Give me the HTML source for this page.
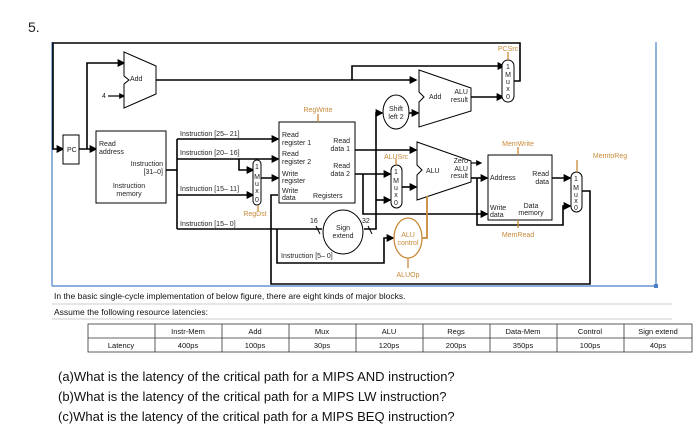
<!DOCTYPE html>
<html><head><meta charset="utf-8"><style>
html,body{margin:0;padding:0;background:#fff;width:700px;height:442px;overflow:hidden}
svg{display:block}
text{font-family:"Liberation Sans",sans-serif;}
.s{font-size:7px;fill:#222}
.o{font-size:7px;fill:#c88a3a}
</style></head><body>
<svg width="700" height="442" viewBox="0 0 700 442" xmlns="http://www.w3.org/2000/svg">
<defs><marker id="a" markerWidth="5" markerHeight="5" refX="4" refY="2.5" orient="auto"><path d="M0,0 L5,2.5 L0,5z" fill="#000"/></marker></defs>
<text x="28" y="32" style="font-size:14px;font-family:'Liberation Sans',sans-serif" fill="#222">5.</text>
<g stroke="#4a7fc8" stroke-width="1.2" fill="none">
<line x1="52" y1="42" x2="52" y2="286"/><line x1="656" y1="42" x2="656" y2="286"/><line x1="52" y1="286" x2="656" y2="286"/>
</g>
<rect x="654" y="284" width="4" height="4" fill="#4a7fc8"/>
<g stroke="#000" stroke-width="1.6" fill="none">
<polyline points="507,81 520,81 520,43 53,43 53,149 63,149" marker-end="url(#a)"/>
<polyline points="79,149 96,149" marker-end="url(#a)"/>
<polyline points="87,149 87,63 124,63" marker-end="url(#a)"/>
<polyline points="108,96 124,96" marker-end="url(#a)" stroke-width="1.2"/>
<polyline points="156,80 416,80" marker-end="url(#a)"/>
<polyline points="352,80 352,66 504,66" marker-end="url(#a)"/>
<polyline points="471,97 503,97" marker-end="url(#a)"/>
<polyline points="166,170 177,170"/>
<polyline points="177,139 177,229"/>
<polyline points="177,139 278,139" marker-end="url(#a)"/>
<polyline points="177,159 278,159" marker-end="url(#a)"/>
<polyline points="239,159 239,170 253,170" marker-end="url(#a)"/>
<polyline points="177,195 253,195" marker-end="url(#a)"/>
<polyline points="177,229 322,229"/>
<polyline points="261,178 278,178" marker-end="url(#a)"/>
<polyline points="277,229 277,263 384,263 384,238 393,238" marker-end="url(#a)"/>
<polyline points="278,195 271,195 271,284 590,284 590,191 582,191"/>
<polyline points="355,150 416,150" marker-end="url(#a)"/>
<polyline points="355,174 390,174" marker-end="url(#a)"/>
<polyline points="363,174 363,214 487,214" marker-end="url(#a)"/>
<polyline points="364,229 376,229 376,113 382,113" marker-end="url(#a)"/>
<polyline points="376,200 390,200" marker-end="url(#a)"/>
<polyline points="409,113 418,113" marker-end="url(#a)"/>
<polyline points="402,187 416,187" marker-end="url(#a)"/>
<polyline points="471,163 481,163" marker-end="url(#a)" stroke-width="1.2"/>
<polyline points="471,178 487,178" marker-end="url(#a)"/>
<polyline points="477,178 477,225 563,225 563,206 570,206" marker-end="url(#a)"/>
<polyline points="552,178 570,178" marker-end="url(#a)"/>
</g>
<g stroke="#000" stroke-width="1" fill="#fff">
<rect x="63" y="135" width="16" height="29"/>
<path d="M124,52 L156,66 L156,94 L124,108 L124,84 L129,80 L124,76z"/>
<rect x="96" y="131" width="70" height="72"/>
<rect x="253" y="160" width="8" height="45" rx="4"/>
<rect x="279" y="122" width="76" height="81"/>
<ellipse cx="343" cy="232" rx="20" ry="22"/>
<rect x="502" y="60" width="12" height="42" rx="6"/>
<path d="M419,70 L471,88 L471,111 L419,127 L419,102 L424,97 L419,92z"/>
<ellipse cx="396" cy="112" rx="13" ry="17"/>
<path d="M417,142 L471,161 L471,182 L417,200 L417,175 L422,170 L417,165z"/>
<rect x="391" y="165" width="11" height="43" rx="5.5"/>
<rect x="488" y="155" width="64" height="65"/>
<rect x="571" y="172" width="11" height="40" rx="5.5"/>
</g>
<g stroke="#c88a3a" stroke-width="1.3" fill="none">
<ellipse cx="408" cy="238" rx="14" ry="20" fill="#fff"/>
<polyline points="427,196 427,238 422,238" stroke-width="1.8"/>
<line x1="318" y1="114" x2="318" y2="122"/><line x1="258" y1="205" x2="258" y2="211"/>
<line x1="508" y1="52" x2="508" y2="60"/><line x1="396" y1="159" x2="396" y2="165"/>
<line x1="518" y1="147" x2="518" y2="155"/><line x1="518" y1="220" x2="518" y2="228"/>
<line x1="577" y1="160" x2="577" y2="172"/><line x1="408" y1="258" x2="408" y2="268"/>
</g>
<g stroke="#000" stroke-width="1"><line x1="316" y1="226" x2="320" y2="234"/><line x1="368" y1="226" x2="372" y2="234"/></g>
<g class="s">
<text x="67" y="152">PC</text>
<text x="130" y="81">Add</text>
<text x="102" y="98">4</text>
<text x="99" y="146">Read</text><text x="99" y="154">address</text>
<text x="163" y="166" text-anchor="end">Instruction</text><text x="163" y="174" text-anchor="end">[31–0]</text>
<text x="129" y="188" text-anchor="middle">Instruction</text><text x="129" y="196" text-anchor="middle">memory</text>
<text x="180" y="136">Instruction [25– 21]</text>
<text x="180" y="155">Instruction [20– 16]</text>
<text x="180" y="191">Instruction [15– 11]</text>
<text x="180" y="226">Instruction [15– 0]</text>
<text x="281" y="258">Instruction [5– 0]</text>
<text x="257" y="169" text-anchor="middle">1</text><text x="257" y="179" text-anchor="middle">M</text><text x="257" y="186" text-anchor="middle">u</text><text x="257" y="193" text-anchor="middle">x</text><text x="257" y="202" text-anchor="middle">0</text>
<text x="282" y="137">Read</text><text x="282" y="145">register 1</text>
<text x="282" y="156">Read</text><text x="282" y="164">register 2</text>
<text x="282" y="176">Write</text><text x="282" y="183">register</text>
<text x="282" y="193">Write</text><text x="282" y="200">data</text>
<text x="350" y="143" text-anchor="end">Read</text><text x="350" y="151" text-anchor="end">data 1</text>
<text x="350" y="168" text-anchor="end">Read</text><text x="350" y="176" text-anchor="end">data 2</text>
<text x="313" y="198">Registers</text>
<text x="310" y="223">16</text><text x="362" y="223">32</text>
<text x="343" y="230" text-anchor="middle">Sign</text><text x="343" y="238" text-anchor="middle">extend</text>
<text x="396" y="111" text-anchor="middle">Shift</text><text x="396" y="119" text-anchor="middle">left 2</text>
<text x="429" y="99">Add</text><text x="468" y="94" text-anchor="end">ALU</text><text x="468" y="102" text-anchor="end">result</text>
<text x="508" y="69" text-anchor="middle">1</text><text x="508" y="77" text-anchor="middle">M</text><text x="508" y="84" text-anchor="middle">u</text><text x="508" y="91" text-anchor="middle">x</text><text x="508" y="99" text-anchor="middle">0</text>
<text x="426" y="173">ALU</text><text x="468" y="163" text-anchor="end">Zero</text><text x="468" y="171" text-anchor="end">ALU</text><text x="468" y="178" text-anchor="end">result</text>
<text x="396" y="174" text-anchor="middle">1</text><text x="396" y="183" text-anchor="middle">M</text><text x="396" y="190" text-anchor="middle">u</text><text x="396" y="197" text-anchor="middle">x</text><text x="396" y="205" text-anchor="middle">0</text>
<text x="490" y="180">Address</text>
<text x="549" y="176" text-anchor="end">Read</text><text x="549" y="184" text-anchor="end">data</text>
<text x="490" y="210">Write</text><text x="490" y="217">data</text>
<text x="531" y="208" text-anchor="middle">Data</text><text x="531" y="215" text-anchor="middle">memory</text>
<text x="576" y="181" text-anchor="middle">1</text><text x="576" y="190" text-anchor="middle">M</text><text x="576" y="197" text-anchor="middle">u</text><text x="576" y="203" text-anchor="middle">x</text><text x="576" y="210" text-anchor="middle">0</text>
</g>
<g class="o">
<text x="318" y="112" text-anchor="middle">RegWrite</text>
<text x="255" y="216" text-anchor="middle">RegDst</text>
<text x="508" y="51" text-anchor="middle">PCSrc</text>
<text x="396" y="159" text-anchor="middle">ALUSrc</text>
<text x="518" y="146" text-anchor="middle">MemWrite</text>
<text x="518" y="237" text-anchor="middle">MemRead</text>
<text x="610" y="158" text-anchor="middle">MemtoReg</text>
<text x="408" y="237" text-anchor="middle">ALU</text><text x="408" y="245" text-anchor="middle">control</text>
<text x="408" y="277" text-anchor="middle">ALUOp</text>
</g>
<g style="font-size:8.5px" fill="#111">
<text x="54" y="299">In the basic single-cycle implementation of below figure, there are eight kinds of major blocks.</text>
<text x="54" y="315">Assume the following resource latencies:</text>
</g>
<g stroke="#999" stroke-width="0.5"><line x1="52" y1="304" x2="672" y2="304"/><line x1="52" y1="319" x2="672" y2="319"/></g>
<g stroke="#333" stroke-width="0.8" fill="none">
<rect x="88" y="324" width="604" height="28"/>
<line x1="88" y1="338" x2="692" y2="338"/>
<line x1="155" y1="324" x2="155" y2="352"/><line x1="222" y1="324" x2="222" y2="352"/><line x1="289" y1="324" x2="289" y2="352"/><line x1="356" y1="324" x2="356" y2="352"/><line x1="423" y1="324" x2="423" y2="352"/><line x1="490" y1="324" x2="490" y2="352"/><line x1="557" y1="324" x2="557" y2="352"/><line x1="624" y1="324" x2="624" y2="352"/>
</g>
<g style="font-size:7.5px" fill="#111" text-anchor="middle">
<text x="188" y="334">Instr-Mem</text><text x="255" y="334">Add</text><text x="322" y="334">Mux</text><text x="389" y="334">ALU</text><text x="456" y="334">Regs</text><text x="523" y="334">Data-Mem</text><text x="590" y="334">Control</text><text x="658" y="334">Sign extend</text>
<text x="121" y="348">Latency</text><text x="188" y="348">400ps</text><text x="255" y="348">100ps</text><text x="322" y="348">30ps</text><text x="389" y="348">120ps</text><text x="456" y="348">200ps</text><text x="523" y="348">350ps</text><text x="590" y="348">100ps</text><text x="658" y="348">40ps</text>
</g>
<g style="font-size:13px" fill="#111">
<text x="58" y="381">(a)What is the latency of the critical path for a MIPS AND instruction?</text>
<text x="58" y="401">(b)What is the latency of the critical path for a MIPS LW instruction?</text>
<text x="58" y="421">(c)What is the latency of the critical path for a MIPS BEQ instruction?</text>
</g>
</svg>
</body></html>
